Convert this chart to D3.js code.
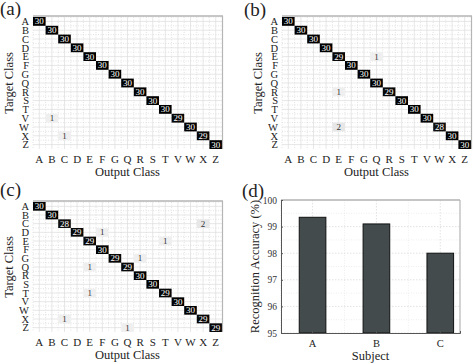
<!DOCTYPE html>
<html><head><meta charset="utf-8">
<script src="https://cdn.jsdelivr.net/npm/d3@7"></script>
<style>body{margin:0;background:#fff} svg text{font-family:"Liberation Serif","DejaVu Serif",serif !important;fill:#222}</style>
</head><body><svg id="c" width="474" height="364" font-family="Liberation Serif, serif"></svg>
<script>
const classes = ["A","B","C","D","E","F","G","Q","R","S","T","V","W","X","Z"];
const diagA = [30,30,30,30,30,30,30,30,30,30,30,29,30,29,30];
const offA = [["V","B",1],["X","C",1]];
const diagB = [30,30,30,30,29,30,30,30,29,30,30,30,28,30,30];
const offB = [["E","Q",1],["R","E",1],["W","E",2]];
const diagC = [30,30,28,29,29,30,29,29,30,30,29,30,30,29,29];
const offC = [["C","X",2],["D","F",1],["E","T",1],["G","R",1],["Q","E",1],["T","E",1],["X","C",1],["Z","Q",1]];
const subjects = ["A","B","C"];
const accuracy = [99.35, 99.1, 98.0];
const accTicks = [95,96,97,98,99,100];

const SERIF = "Liberation Serif, DejaVu Serif, serif";
const svg = d3.select("#c");
const color = d3.scaleLinear().domain([0,1,30]).range(["#ffffff","#efefef","#000000"]);

function matrix(box, diag, off, tag, lab) {
  const g = svg.append("g");
  const x = d3.scaleBand().domain(classes).range([box.x0, box.x1]);
  const y = d3.scaleBand().domain(classes).range([box.y0, box.y1]);
  const bw = x.bandwidth(), bh = y.bandwidth();
  const gx = g.append("g");
  classes.forEach(c => {
    gx.append("line").attr("x1", x(c)+bw/2).attr("x2", x(c)+bw/2).attr("y1", box.y0).attr("y2", box.y1)
      .attr("stroke", "#dcdcdc").attr("stroke-width", 0.7);
    gx.append("line").attr("x1", x(c)).attr("x2", x(c)).attr("y1", box.y0).attr("y2", box.y1)
      .attr("stroke", "#d0d0d0").attr("stroke-width", 0.6).attr("stroke-dasharray", "1,1.5");
    gx.append("line").attr("y1", y(c)+bh/2).attr("y2", y(c)+bh/2).attr("x1", box.x0).attr("x2", box.x1)
      .attr("stroke", "#dcdcdc").attr("stroke-width", 0.7);
    gx.append("line").attr("y1", y(c)).attr("y2", y(c)).attr("x1", box.x0).attr("x2", box.x1)
      .attr("stroke", "#d0d0d0").attr("stroke-width", 0.6).attr("stroke-dasharray", "1,1.5");
  });
  const cells = diag.map((v, i) => ({r: classes[i], c: classes[i], v}))
    .concat(off.map(d => ({r: d[0], c: d[1], v: d[2]})));
  g.selectAll("rect.cell").data(cells).join("rect").attr("class", "cell")
    .attr("x", d => x(d.c)).attr("y", d => y(d.r)).attr("width", bw).attr("height", bh)
    .attr("fill", d => color(d.v));
  g.selectAll("text.val").data(cells).join("text").attr("class", "val")
    .attr("x", d => x(d.c)+bw/2).attr("y", d => y(d.r)+bh/2+3)
    .attr("text-anchor", "middle").attr("font-size", "9px").attr("font-family", SERIF)
    .style("fill", d => d.v > 15 ? "#fff" : "#333").text(d => d.v);
  g.append("line").attr("x1", box.x0).attr("x2", box.x1+1).attr("y1", box.y0-1).attr("y2", box.y0-1)
    .attr("stroke", "#b5b5b5").attr("stroke-width", 1.6);
  g.append("line").attr("x1", box.x1+0.5).attr("x2", box.x1+0.5).attr("y1", box.y0-1).attr("y2", box.y1)
    .attr("stroke", "#b5b5b5").attr("stroke-width", 1.2);
  const ax = g.append("g").attr("transform", `translate(0,${box.y1+2})`)
    .call(d3.axisBottom(x).tickSize(0).tickPadding(4));
  ax.attr("font-family", SERIF);
  ax.select(".domain").remove();
  ax.selectAll("text").attr("font-size", "11px").attr("font-family", SERIF).style("fill", "#222");
  const ay = g.append("g").attr("transform", `translate(${box.x0},0)`)
    .call(d3.axisLeft(y).tickSize(0).tickPadding(4));
  ay.attr("font-family", SERIF);
  ay.select(".domain").remove();
  ay.selectAll("text").attr("font-size", "10.5px").attr("dy", "0.36em").attr("font-family", SERIF).style("fill", "#222");
  g.append("text").attr("x", (box.x0+box.x1)/2).attr("y", box.y1+27).attr("text-anchor", "middle")
    .attr("font-size", "12.5px").attr("font-family", SERIF).text("Output Class");
  g.append("text").attr("transform", `translate(${box.x0-20},${(box.y0+box.y1)/2}) rotate(-90)`)
    .attr("text-anchor", "middle").attr("font-size", "12.5px").attr("font-family", SERIF).text("Target Class");
  svg.append("text").attr("x", lab.x).attr("y", lab.y).attr("font-size", "19px").attr("font-family", SERIF).text(tag);
}

matrix({x0: 33, x1: 222, y0: 17, y1: 149}, diagA, offA, "(a)", {x: 0, y: 15});
matrix({x0: 282, x1: 471, y0: 17, y1: 149}, diagB, offB, "(b)", {x: 244, y: 16});
matrix({x0: 33, x1: 222, y0: 202, y1: 332}, diagC, offC, "(c)", {x: 0, y: 196});

(function(){
  const L = 281, R = 460, T = 200, B = 333;
  const g = svg.append("g");
  const x = d3.scaleBand().domain(subjects).range([L, R]).paddingInner(0.583).paddingOuter(0.193).align(0.74);
  const y = d3.scaleLinear().domain([95, 100]).range([B, T]);
  const step = x.step(), bw = x.bandwidth();
  d3.range(95.5, 100, 1).forEach(v => {
    g.append("line").attr("x1", L).attr("x2", R).attr("y1", y(v)).attr("y2", y(v))
      .attr("stroke", "#e2e2e2").attr("stroke-width", 0.6).attr("stroke-dasharray", "1,1.5");
  });
  subjects.forEach((s, i) => {
    const cx = x(s) + bw/2;
    g.append("line").attr("x1", cx - step/2).attr("x2", cx - step/2).attr("y1", T).attr("y2", B)
      .attr("stroke", "#e2e2e2").attr("stroke-width", 0.6).attr("stroke-dasharray", "1,1.5");
    g.append("line").attr("x1", cx).attr("x2", cx).attr("y1", T).attr("y2", B)
      .attr("stroke", "#d6d6d6").attr("stroke-width", 0.7).attr("stroke-dasharray", "1.5,1.5");
  });
  accTicks.forEach(v => {
    g.append("line").attr("x1", L).attr("x2", R).attr("y1", y(v)).attr("y2", y(v))
      .attr("stroke", "#d6d6d6").attr("stroke-width", 0.7).attr("stroke-dasharray", "1.5,1.5");
  });
  g.selectAll("rect.bar").data(accuracy).join("rect").attr("class", "bar")
    .attr("x", (d, i) => x(subjects[i])).attr("y", d => y(d))
    .attr("width", bw).attr("height", d => y(95) - y(d))
    .attr("fill", "#434b4c").attr("stroke", "#111").attr("stroke-width", 1);
  g.append("line").attr("x1", L).attr("x2", R).attr("y1", T).attr("y2", T).attr("stroke", "#b5b5b5").attr("stroke-width", 1.4);
  g.append("line").attr("x1", R).attr("x2", R).attr("y1", T).attr("y2", B).attr("stroke", "#b5b5b5").attr("stroke-width", 1.2);
  const ay = g.append("g").attr("transform", `translate(${L},0)`)
    .call(d3.axisLeft(y).tickValues(accTicks).tickFormat(d3.format("d")).tickSize(-2).tickPadding(4));
  ay.attr("font-family", SERIF);
  ay.select(".domain").attr("stroke", "#555");
  ay.selectAll(".tick line").attr("stroke", "#555");
  ay.selectAll("text").attr("font-size", "9.5px").attr("font-family", SERIF).style("fill", "#333");
  const ax = g.append("g").attr("transform", `translate(0,${B})`)
    .call(d3.axisBottom(x).tickSize(-2).tickPadding(7));
  ax.attr("font-family", SERIF);
  ax.select(".domain").attr("stroke", "#555");
  ax.selectAll(".tick line").attr("stroke", "#555");
  ax.selectAll("text").attr("font-size", "10.5px").attr("font-family", SERIF).style("fill", "#222");
  g.append("text").attr("x", (L + R)/2).attr("y", 360).attr("text-anchor", "middle").attr("font-size", "12.5px").attr("font-family", SERIF).text("Subject");
  g.append("text").attr("transform", `translate(259,${(T + B)/2}) rotate(-90)`).attr("text-anchor", "middle")
    .attr("font-size", "12.5px").attr("font-family", SERIF).text("Recognition Accuracy (%)");
  svg.append("text").attr("x", 242).attr("y", 197).attr("font-size", "19px").attr("font-family", SERIF).text("(d)");
})();
</script></body></html>
